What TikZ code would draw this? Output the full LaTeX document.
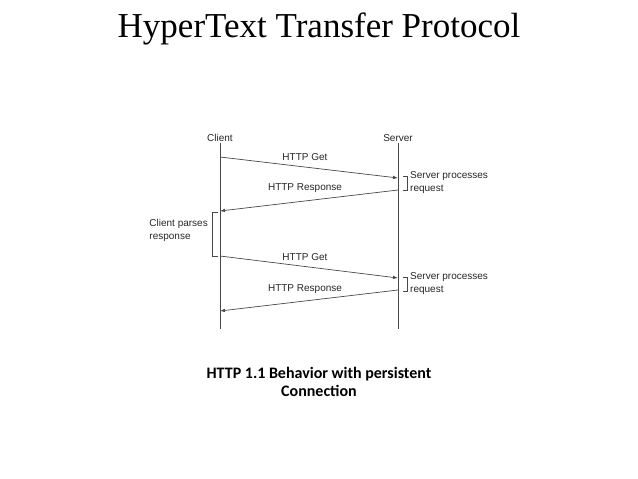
\documentclass[tikz,border=0pt]{standalone}
\usepackage{fontspec}
\setmainfont{Liberation Serif}
\newfontfamily\arialf{Liberation Sans}
\newfontfamily\calib{Carlito}
\usetikzlibrary{arrows.meta}
\definecolor{lineg}{HTML}{484848}
\definecolor{txtg}{HTML}{262626}
\tikzset{
  lbl/.style={font=\arialf\fontsize{10}{11}\selectfont, text=txtg, inner sep=0pt},
  life/.style={draw=lineg, line width=0.9pt},
  msg/.style={draw=lineg, line width=0.7pt, -{Latex[length=5pt,width=3.5pt]}},
  brk/.style={draw=lineg, line width=0.6pt},
}
\begin{document}
\begin{tikzpicture}[x=1pt,y=-1pt]
\useasboundingbox (0,0) rectangle (638,479);
\node[font=\fontsize{35}{40}\selectfont, inner sep=0pt] (title) at (319,29) {HyperText Transfer Protocol};

\node[lbl] (client) at (220,138) {Client};
\node[lbl] (server) at (398,138) {Server};
\coordinate (cend) at (220,329);
\coordinate (send) at (398,329);
\draw[life] (client.south) ++(0,1) -- (cend);
\draw[life] (server.south) ++(0,1) -- (send);

\coordinate (c1) at (220,157);
\coordinate (s1) at (398,178);
\coordinate (s2) at (398,190);
\coordinate (c2) at (220,211);
\coordinate (c3) at (220,256);
\coordinate (s3) at (398,278);
\coordinate (s4) at (398,290);
\coordinate (c4) at (220,311);

\draw[msg] (c1) -- (s1);
\draw[msg] (s2) -- (c2);
\draw[msg] (c3) -- (s3);
\draw[msg] (s4) -- (c4);

\node[lbl] (l1) at (305,157) {HTTP Get};
\node[lbl] (l2) at (305,188) {HTTP Response};
\node[lbl] (l3) at (305,257) {HTTP Get};
\node[lbl] (l4) at (305,289) {HTTP Response};

% server brackets
\draw[brk] (403,176) -- (407,176) -- (407,190) -- (403,190);
\draw[brk] (403,277) -- (407,277) -- (407,291) -- (403,291);
\node[lbl, anchor=west, align=left, font=\arialf\fontsize{10}{13}\selectfont] (sp1) at (410,183) {Server processes\\request};
\node[lbl, anchor=west, align=left, font=\arialf\fontsize{10}{13}\selectfont] (sp2) at (410,284) {Server processes\\request};

% client bracket
\draw[brk] (218,212) -- (212,212) -- (212,256) -- (218,256);
\node[lbl, anchor=east, align=left, font=\arialf\fontsize{10}{13}\selectfont] (cp) at (208,230) {Client parses\\response};

\node[font=\calib\bfseries\fontsize{16}{18.5}\selectfont, align=center, inner sep=0pt] (cap) at (319,382) {HTTP 1.1 Behavior with persistent\\Connection};
\end{tikzpicture}
\end{document}
